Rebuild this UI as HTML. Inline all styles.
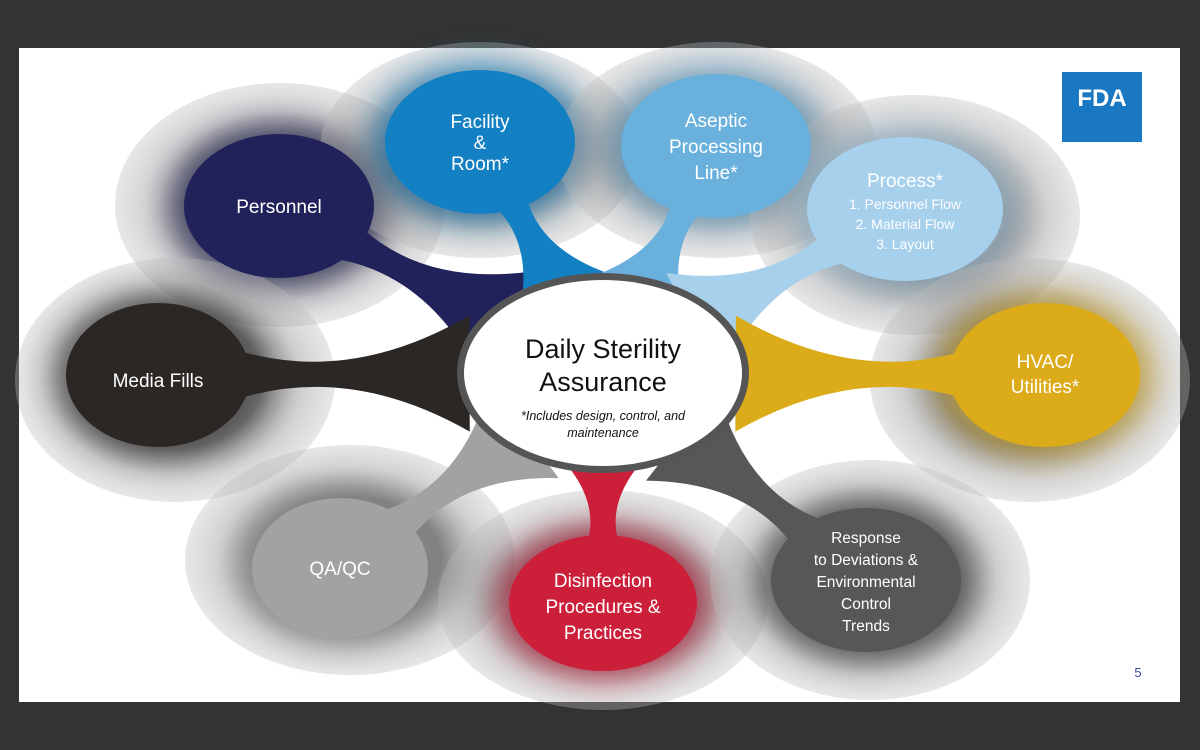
<!DOCTYPE html>
<html><head><meta charset="utf-8"><style>
html,body{margin:0;padding:0;background:#333;}
svg{display:block}
text{font-family:"Liberation Sans","DejaVu Sans",sans-serif}
</style></head><body>
<svg id="s" width="1200" height="750" viewBox="0 0 1200 750" xmlns="http://www.w3.org/2000/svg">
<defs>
<radialGradient id="halo" cx="50%" cy="50%" r="50%">
<stop offset="0.55" stop-color="#555" stop-opacity="0.75"/>
<stop offset="0.8" stop-color="#999" stop-opacity="0.45"/>
<stop offset="1" stop-color="#bbb" stop-opacity="0.35"/>
</radialGradient>
<filter id="bl" x="-30%" y="-30%" width="160%" height="160%"><feGaussianBlur stdDeviation="14"/></filter>
</defs>
<rect x="0" y="0" width="1200" height="750" fill="#333"/>
<rect x="19" y="48" width="1161" height="654" fill="#fff"/>
<g id="halos"></g>
<g id="necks"></g>
<ellipse cx="603" cy="373" rx="146" ry="100" fill="#555"/>
<ellipse cx="603" cy="373" rx="139" ry="93" fill="#fff"/>
<g id="nodes"></g>
<text x="1138" y="677" font-size="13" fill="#3a4aa0" text-anchor="middle">5</text>
<rect x="1062" y="72" width="80" height="70" fill="#1a78c2"/>
<text x="1102" y="106" font-size="24" font-weight="bold" fill="#fff" text-anchor="middle">FDA</text>
<g font-size="27" fill="#111" text-anchor="middle">
<text x="603" y="358">Daily Sterility</text>
<text x="603" y="391">Assurance</text>
</g>
<g font-size="12.5" font-style="italic" fill="#111" text-anchor="middle">
<text x="603" y="420">*Includes design, control, and</text>
<text x="603" y="437">maintenance</text>
</g>
</svg>
<script>
var N=[
 {x:279,y:206,rx:95,ry:72,hx:280,hy:205,hrx:165,hry:122,c:"#21225a",h:"#21225a",t:["Personnel"],fs:19,ty:[213]},
 {x:480,y:142,rx:95,ry:72,hx:480,hy:150,hrx:160,hry:108,c:"#1480c4",h:"#1480c4",t:["Facility","&","Room*"],fs:19,ty:[128,149,170]},
 {x:716,y:146,rx:95,ry:72,hx:716,hy:150,hrx:160,hry:108,c:"#6ab0dc",h:"#6ab0dc",t:["Aseptic","Processing","Line*"],fs:19,ty:[127,153,179]},
 {x:905,y:209,rx:98,ry:72,hx:915,hy:215,hrx:165,hry:120,c:"#a6d0ec",h:"#a6d0ec",t:["Process*"],fs:19,ty:[187],sub:["1. Personnel Flow","2. Material Flow","3. Layout"],sy:[209,229,249]},
 {x:1045,y:375,rx:95,ry:72,hx:1030,hy:380,hrx:160,hry:122,c:"#dcab1a",h:"#dcab1a",t:["HVAC/","Utilities*"],fs:19,ty:[368,393]},
 {x:158,y:375,rx:92,ry:72,hx:175,hy:380,hrx:160,hry:122,c:"#2b2725",h:"#2b2725",t:["Media Fills"],fs:19,ty:[387]},
 {x:340,y:568,rx:88,ry:70,hx:350,hy:560,hrx:165,hry:115,c:"#a2a2a2",h:"#888",t:["QA/QC"],fs:19,ty:[575]},
 {x:603,y:603,rx:94,ry:68,hx:603,hy:600,hrx:165,hry:110,c:"#cc1f3a",h:"#cc1f3a",t:["Disinfection","Procedures &","Practices"],fs:19,ty:[587,613,639]},
 {x:866,y:580,rx:95,ry:72,hx:870,hy:580,hrx:160,hry:120,c:"#575757",h:"#444",t:["Response","to Deviations &","Environmental","Control","Trends"],fs:15.5,ty:[543,565,587,609,631]}
];
var S="http://www.w3.org/2000/svg";
function el(n,a,p){var e=document.createElementNS(S,n);for(var k in a)e.setAttribute(k,a[k]);p.appendChild(e);return e;}
var H=document.getElementById("halos"),K=document.getElementById("necks"),D=document.getElementById("nodes");
N.forEach(function(n){
 el("ellipse",{cx:n.hx,cy:n.hy,rx:n.hrx,ry:n.hry,fill:"url(#halo)"},H);
 el("ellipse",{cx:n.x,cy:n.y,rx:n.rx*1.15,ry:n.ry*1.15,fill:n.h,opacity:0.55,filter:"url(#bl)"},H);
 var cx=603,cy=373,dx=n.x-cx,dy=n.y-cy,L=Math.sqrt(dx*dx+dy*dy),ux=dx/L,uy=dy/L,px=-uy,py=ux;
 var sx=cx+ux*L*0.92,sy=cy+uy*L*0.92,ex=cx+ux*L*0.3,ey=cy+uy*L*0.3;
 var w1=42,w2=58,mx=cx+ux*L*0.62,my=cy+uy*L*0.62,wm=-24;
 var d="M"+(sx+px*w1)+","+(sy+py*w1)+" Q"+(mx+px*wm)+","+(my+py*wm)+" "+(ex+px*w2)+","+(ey+py*w2)+
 " L"+(ex-px*w2)+","+(ey-py*w2)+" Q"+(mx-px*wm)+","+(my-py*wm)+" "+(sx-px*w1)+","+(sy-py*w1)+"Z";
 el("path",{d:d,fill:n.c},K);
 el("ellipse",{cx:n.x,cy:n.y,rx:n.rx,ry:n.ry,fill:n.c},D);
 n.t.forEach(function(s,i){var t=el("text",{x:n.x,y:n.ty[i],"font-size":n.fs,fill:"#fff","text-anchor":"middle"},D);t.textContent=s;});
 if(n.sub)n.sub.forEach(function(s,i){var t=el("text",{x:n.x,y:n.sy[i],"font-size":14,fill:"#fff","text-anchor":"middle"},D);t.textContent=s;});
});
</script>
</body></html>
